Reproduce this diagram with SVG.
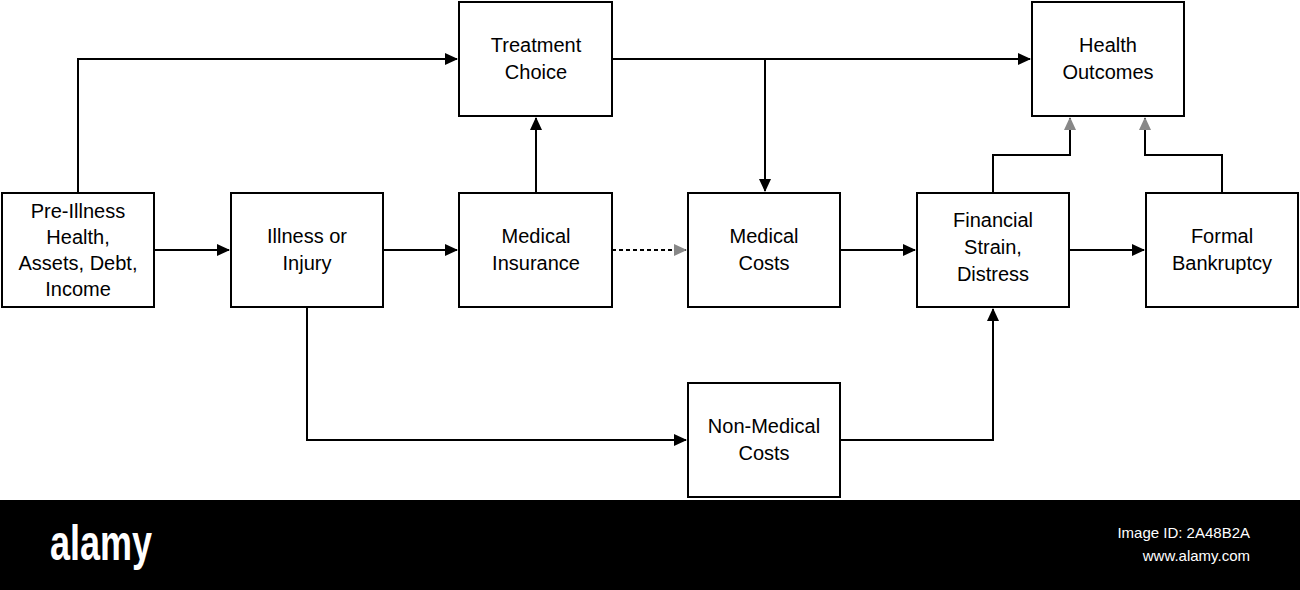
<svg xmlns="http://www.w3.org/2000/svg" width="1300" height="590" viewBox="0 0 1300 590">
<defs>
<style>
.n{fill:#fff;stroke:#000;stroke-width:2}
.t{font-family:"Liberation Sans",Arial,sans-serif;font-size:20px;text-anchor:middle;fill:#000}
.c{fill:none;stroke:#000;stroke-width:2}
</style>
<marker id="a" markerWidth="13" markerHeight="12" refX="12" refY="6" orient="auto" markerUnits="userSpaceOnUse"><path d="M0,0 L13,6 L0,12 z" fill="#000"/></marker>
<marker id="g" markerWidth="13" markerHeight="12" refX="12" refY="6" orient="auto" markerUnits="userSpaceOnUse"><path d="M0,0 L13,6 L0,12 z" fill="#888"/></marker>
</defs>
<rect width="1300" height="590" fill="#fff"/>
<g id="connectors">
<path class="c" d="M154,250 H229" marker-end="url(#a)"/>
<path class="c" d="M383,250 H457" marker-end="url(#a)"/>
<path class="c" d="M612,250 H686" stroke-dasharray="4,3" stroke="#666" marker-end="url(#g)"/>
<path class="c" d="M840,250 H915" marker-end="url(#a)"/>
<path class="c" d="M1069,250 H1144" marker-end="url(#a)"/>
<path class="c" d="M78,193 V59 H457" marker-end="url(#a)"/>
<path class="c" d="M536,193 V118" marker-end="url(#a)"/>
<path class="c" d="M612,59 H1030" marker-end="url(#a)"/>
<path class="c" d="M765,59 V191" marker-end="url(#a)"/>
<path class="c" d="M307,307 V440 H686" marker-end="url(#a)"/>
<path class="c" d="M840,440 H993 V309" marker-end="url(#a)"/>
<path class="c" d="M993,193 V155 H1070 V118" marker-end="url(#g)"/>
<path class="c" d="M1222,193 V155 H1145 V118" marker-end="url(#g)"/>
</g>
<g id="pre"><rect class="n" x="2" y="193" width="152" height="114"/><text class="t" x="78" y="218">Pre-Illness</text><text class="t" x="78" y="244">Health,</text><text class="t" x="78" y="270">Assets, Debt,</text><text class="t" x="78" y="296">Income</text></g>
<g id="illness"><rect class="n" x="231" y="193" width="152" height="114"/><text class="t" x="307" y="243">Illness or</text><text class="t" x="307" y="270">Injury</text></g>
<g id="insurance"><rect class="n" x="459" y="193" width="153" height="114"/><text class="t" x="536" y="243">Medical</text><text class="t" x="536" y="270">Insurance</text></g>
<g id="costs"><rect class="n" x="688" y="193" width="152" height="114"/><text class="t" x="764" y="243">Medical</text><text class="t" x="764" y="270">Costs</text></g>
<g id="strain"><rect class="n" x="917" y="193" width="152" height="114"/><text class="t" x="993" y="227">Financial</text><text class="t" x="993" y="254">Strain,</text><text class="t" x="993" y="281">Distress</text></g>
<g id="bankruptcy"><rect class="n" x="1146" y="193" width="152" height="114"/><text class="t" x="1222" y="243">Formal</text><text class="t" x="1222" y="270">Bankruptcy</text></g>
<g id="treatment"><rect class="n" x="459" y="2" width="153" height="114"/><text class="t" x="536" y="52">Treatment</text><text class="t" x="536" y="79">Choice</text></g>
<g id="health"><rect class="n" x="1032" y="2" width="152" height="114"/><text class="t" x="1108" y="52">Health</text><text class="t" x="1108" y="79">Outcomes</text></g>
<g id="nonmed"><rect class="n" x="688" y="383" width="152" height="114"/><text class="t" x="764" y="433">Non-Medical</text><text class="t" x="764" y="460">Costs</text></g>
<rect x="0" y="500" width="1300" height="90" fill="#000"/>
<text x="50" y="560" font-family="Liberation Sans,Arial,sans-serif" font-size="50" font-weight="bold" fill="#fff" textLength="102" lengthAdjust="spacingAndGlyphs">alamy</text>
<text x="1250" y="538" font-family="Liberation Sans,Arial,sans-serif" font-size="15" text-anchor="end" fill="#fff">Image ID: 2A48B2A</text>
<text x="1250" y="561" font-family="Liberation Sans,Arial,sans-serif" font-size="15" text-anchor="end" fill="#fff">www.alamy.com</text>
</svg>
